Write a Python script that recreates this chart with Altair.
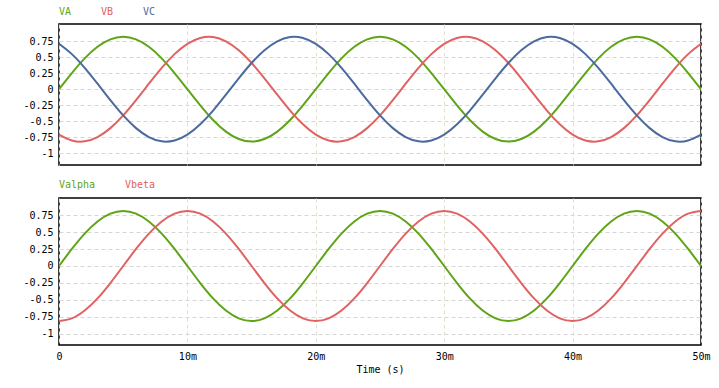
import altair as alt
import pandas as pd

# time in milliseconds
t_ms = [0, 1, 2, 3, 4, 5, 6, 7, 8, 9, 10, 11, 12, 13, 14, 15, 16, 17, 18, 19, 20,
        21, 22, 23, 24, 25, 26, 27, 28, 29, 30, 31, 32, 33, 34, 35, 36, 37, 38, 39, 40,
        41, 42, 43, 44, 45, 46, 47, 48, 49, 50]

va = [0, .252, .480, .660, .776, .816, .776, .660, .480, .252,
      0, -.252, -.480, -.660, -.776, -.816, -.776, -.660, -.480, -.252,
      0, .252, .480, .660, .776, .816, .776, .660, .480, .252,
      0, -.252, -.480, -.660, -.776, -.816, -.776, -.660, -.480, -.252,
      0, .252, .480, .660, .776, .816, .776, .660, .480, .252, 0]
vb = [-.707, -.798, -.812, -.745, -.606, -.408, -.170, .085, .332, .546,
      .707, .798, .812, .745, .606, .408, .170, -.085, -.332, -.546,
      -.707, -.798, -.812, -.745, -.606, -.408, -.170, .085, .332, .546,
      .707, .798, .812, .745, .606, .408, .170, -.085, -.332, -.546,
      -.707, -.798, -.812, -.745, -.606, -.408, -.170, .085, .332, .546, .707]
vc = [.707, .546, .332, .085, -.170, -.408, -.606, -.745, -.812, -.798,
      -.707, -.546, -.332, -.085, .170, .408, .606, .745, .812, .798,
      .707, .546, .332, .085, -.170, -.408, -.606, -.745, -.812, -.798,
      -.707, -.546, -.332, -.085, .170, .408, .606, .745, .812, .798,
      .707, .546, .332, .085, -.170, -.408, -.606, -.745, -.812, -.798, -.707]
valpha = [0, .252, .480, .660, .776, .816, .776, .660, .480, .252,
          0, -.252, -.480, -.660, -.776, -.816, -.776, -.660, -.480, -.252,
          0, .252, .480, .660, .776, .816, .776, .660, .480, .252,
          0, -.252, -.480, -.660, -.776, -.816, -.776, -.660, -.480, -.252,
          0, .252, .480, .660, .776, .816, .776, .660, .480, .252, 0]
vbeta = [-.816, -.776, -.660, -.480, -.252, 0, .252, .480, .660, .776,
         .816, .776, .660, .480, .252, 0, -.252, -.480, -.660, -.776,
         -.816, -.776, -.660, -.480, -.252, 0, .252, .480, .660, .776,
         .816, .776, .660, .480, .252, 0, -.252, -.480, -.660, -.776,
         -.816, -.776, -.660, -.480, -.252, 0, .252, .480, .660, .776, .816]

top_names = ["VA", "VB", "VC"]
bot_names = ["Valpha", "Vbeta"]
x_ticks = [0, 10, 20, 30, 40, 50]
y_ticks = [-1, -0.75, -0.5, -0.25, 0, 0.25, 0.5, 0.75]

GREEN = "#5ea416"
RED = "#e06262"
BLUE = "#4b6a9d"
FONT = "DejaVu Sans Mono"

top_df = pd.DataFrame({
    "t": t_ms * 3,
    "v": va + vb + vc,
    "s": [top_names[0]] * len(t_ms) + [top_names[1]] * len(t_ms) + [top_names[2]] * len(t_ms),
})
bot_df = pd.DataFrame({
    "t": t_ms * 2,
    "v": valpha + vbeta,
    "s": [bot_names[0]] * len(t_ms) + [bot_names[1]] * len(t_ms),
})

x_grid = dict(grid=True, gridColor="#e2dfcf", gridDash=[4, 3], gridWidth=1,
              ticks=False, domain=False, values=x_ticks)
y_axis = alt.Axis(values=y_ticks, labelExpr="'' + datum.value", ticks=False, domain=False,
                  title=None, grid=True, gridColor="#d6d6d6", gridDash=[4, 3],
                  labelFont=FONT, labelFontSize=10, labelColor="black", labelPadding=6)


def legend_text(name, color, dx, dy):
    return alt.Chart(pd.DataFrame({"label": [name]})).mark_text(
        align="left", baseline="middle", font=FONT, fontSize=10, color=color
    ).encode(text="label:N", x=alt.value(dx), y=alt.value(dy))


top_lines = alt.Chart(top_df).mark_line(interpolate="natural", strokeWidth=2, clip=True).encode(
    x=alt.X("t:Q", scale=alt.Scale(domain=[0, 50], nice=False, zero=False),
            axis=alt.Axis(labels=False, title=None, **x_grid)),
    y=alt.Y("v:Q", scale=alt.Scale(domain=[-1.18, 1.015], nice=False, zero=False), axis=y_axis),
    color=alt.Color("s:N", scale=alt.Scale(domain=top_names, range=[GREEN, RED, BLUE]), legend=None),
)
top = alt.layer(
    top_lines,
    legend_text(top_names[0], GREEN, 0, -12),
    legend_text(top_names[1], RED, 42, -12),
    legend_text(top_names[2], BLUE, 84, -12),
).properties(width=642, height=141)

bot_lines = alt.Chart(bot_df).mark_line(interpolate="natural", strokeWidth=2, clip=True).encode(
    x=alt.X("t:Q", scale=alt.Scale(domain=[0, 50], nice=False, zero=False),
            axis=alt.Axis(labelExpr="datum.value == 0 ? '0' : datum.value + 'm'",
                          labelFont=FONT, labelFontSize=10, labelColor="black", labelPadding=6,
                          title="Time (s)", titleFont=FONT, titleFontSize=10, titleFontWeight="normal",
                          titleColor="black", titlePadding=3, **x_grid)),
    y=alt.Y("v:Q", scale=alt.Scale(domain=[-1.17, 1.007], nice=False, zero=False), axis=y_axis),
    color=alt.Color("s:N", scale=alt.Scale(domain=bot_names, range=[GREEN, RED]), legend=None),
)
bot = alt.layer(
    bot_lines,
    legend_text(bot_names[0], GREEN, 0, -13),
    legend_text(bot_names[1], RED, 66, -13),
).properties(width=642, height=147)

chart = alt.vconcat(top, bot, spacing=13).properties(
    padding={"left": 22, "top": 6, "right": 6, "bottom": 4},
    background="white",
).configure_view(stroke="black", strokeWidth=1.5).configure_axis(labelFlush=False)

chart.save("out.html", embed_options={"renderer": "svg", "actions": False})
